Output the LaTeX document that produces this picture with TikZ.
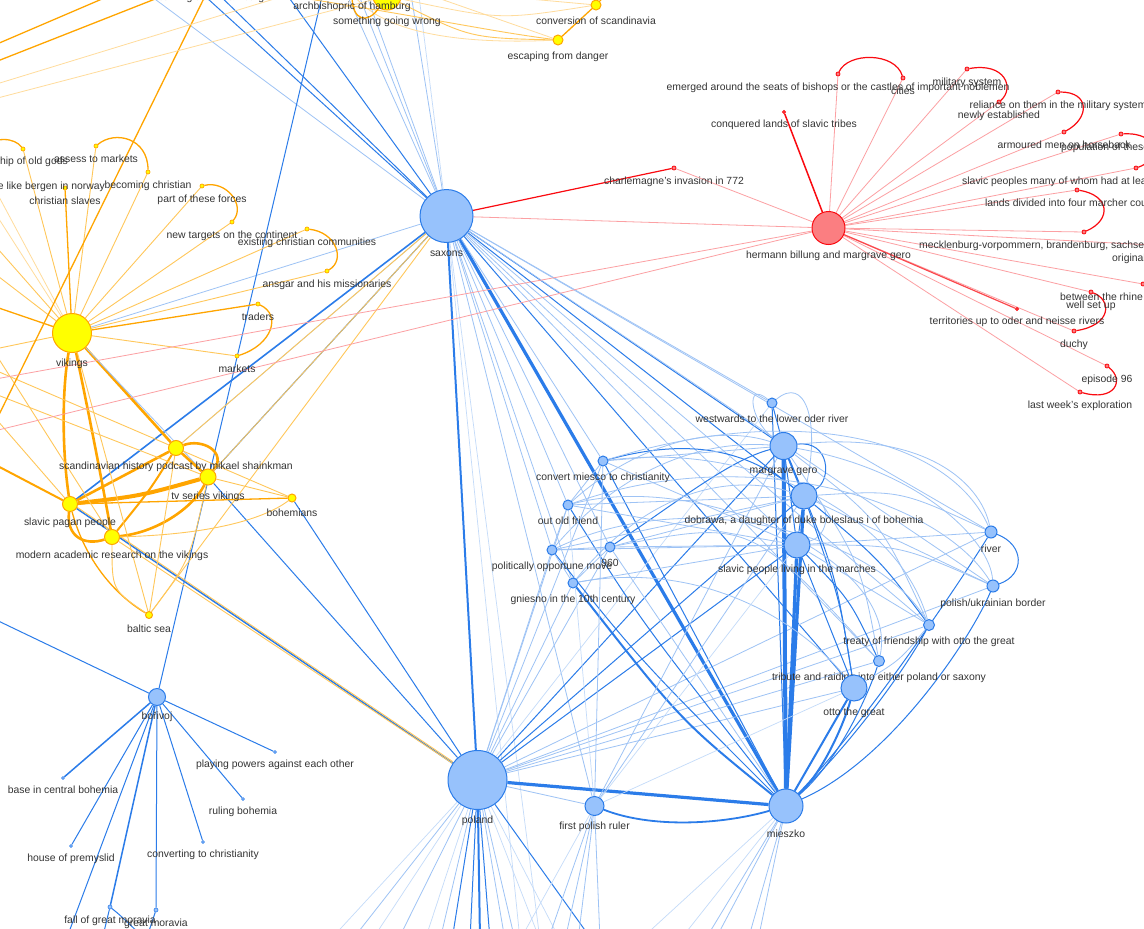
\documentclass[tikz,border=0pt]{standalone}
\usepackage{fontspec}
\setmainfont{Liberation Sans}
\pgfdeclarelayer{bg}
\pgfdeclarelayer{edges}
\pgfsetlayers{bg,edges,main}
\definecolor{bB}{HTML}{2B7CE9}
\definecolor{bF}{HTML}{97C2FC}
\definecolor{bL}{HTML}{9EC3F5}
\definecolor{bVL}{HTML}{C4DBF9}
\definecolor{yB}{HTML}{FFA500}
\definecolor{yF}{HTML}{FFFF00}
\definecolor{oL}{HTML}{FFC75A}
\definecolor{oVL}{HTML}{FFDC9C}
\definecolor{rB}{HTML}{FA0A10}
\definecolor{rF}{HTML}{FB7E81}
\definecolor{rL}{HTML}{FCA0A3}
\definecolor{txt}{HTML}{343434}
\tikzset{
 bn/.style={circle,draw=bB,fill=bF,line width=1pt,inner sep=0pt},
 bdot/.style={circle,draw=bB,fill=bF,line width=0.6pt,inner sep=0pt},
 yn/.style={circle,draw=yB,fill=yF,line width=1pt,inner sep=0pt},
 ydot/.style={circle,draw=yB,fill=yF,line width=0.7pt,inner sep=0pt},
 rn/.style={circle,draw=rB,fill=rF,line width=1pt,inner sep=0pt},
 rdot/.style={circle,draw=rB,fill=rF,line width=0.8pt,inner sep=0pt},
 lbl/.style={font=\fontsize{10.4}{12}\selectfont,text=txt,inner sep=0pt,text height=7.5pt,text depth=2.2pt},
 be0/.style={draw=bVL,line width=0.7pt},
 be1/.style={draw=bL,line width=0.8pt},
 be2/.style={draw=bB,line width=1pt},
 be3/.style={draw=bB,line width=2pt},
 be4/.style={draw=bB,line width=3.2pt},
 oe0/.style={draw=oVL,line width=0.8pt},
 oe1/.style={draw=oL,line width=0.9pt},
 oe2/.style={draw=yB,line width=1.3pt},
 oe3/.style={draw=yB,line width=2.6pt},
 oe4/.style={draw=yB,line width=4pt},
 re1/.style={draw=rL,line width=0.8pt},
 re2/.style={draw=rB,line width=1.2pt},
}
\newcommand\gnode[6]{%
 \node[#1,minimum size=#5pt] (#2) at (#3,#4) {};%
 \pgfmathsetmacro\labely{#4+#5/2+11.5}%
 \node[lbl] (#2-l) at (#3,\labely) {#6};}
\begin{document}
\begin{tikzpicture}[x=1pt,y=-1pt]
\begin{pgfonlayer}{bg}
\fill[white] (0,0) rectangle (1144,929);
\end{pgfonlayer}
\useasboundingbox (0,0) rectangle (1144,929);

% ---------- blue nodes ----------
\gnode{bn}{saxons}{446.5}{216}{53}{saxons}
\gnode{bn}{poland}{477.5}{780}{59}{poland}
\gnode{bn}{mieszko}{786}{806}{34}{mieszko}
\gnode{bn}{fpr}{594.5}{806}{19}{first polish ruler}
\gnode{bn}{ww}{772}{403}{10}{westwards to the lower oder river}
\gnode{bn}{mg}{783.5}{446}{27}{margrave gero}
\gnode{bn}{dob}{804}{496}{26}{dobrawa, a daughter of duke boleslaus i of bohemia}
\gnode{bn}{slp}{797}{545}{26}{slavic people living in the marches}
\gnode{bn}{conv}{603}{461}{10}{convert miesco to christianity}
\gnode{bn}{oof}{568}{505}{10}{out old friend}
\gnode{bn}{pom}{552}{550}{10}{politically opportune move}
\gnode{bn}{n960}{610}{547}{10}{960}
\gnode{bn}{gn}{573}{583}{10}{gniesno in the 10th century}
\gnode{bn}{river}{991}{532}{12}{river}
\gnode{bn}{pub}{993}{586}{12}{polish/ukrainian border}
\gnode{bn}{treaty}{929}{625}{11}{treaty of friendship with otto the great}
\gnode{bn}{trib}{879}{661}{11}{tribute and raiding into either poland or saxony}
\gnode{bn}{otto}{854}{688}{26}{otto the great}
\gnode{bn}{bor}{157}{697}{17}{bořivoj}
\gnode{bdot}{ppae}{275}{752}{3}{playing powers against each other}
\gnode{bdot}{bcb}{63}{778}{3}{base in central bohemia}
\gnode{bdot}{rb}{243}{799}{3}{ruling bohemia}
\gnode{bdot}{hop}{71}{846}{3}{house of premyslid}
\gnode{bdot}{ctc}{203}{842}{3}{converting to christianity}
\gnode{bdot}{fgm}{110}{907}{4}{fall of great moravia}
\gnode{bdot}{gm}{156}{910}{4}{great moravia}

% ---------- yellow nodes ----------
\gnode{yn}{vikings}{72}{333}{39}{vikings}
\gnode{yn}{pod}{176}{448}{15}{scandinavian history podcast by mikael shainkman}
\gnode{yn}{tv}{208}{477}{16}{tv series vikings}
\gnode{yn}{sp}{70}{504}{15}{slavic pagan people}
\gnode{yn}{mar}{112}{537}{15}{modern academic research on the vikings}
\gnode{yn}{boh}{292}{498}{8}{bohemians}
\gnode{yn}{baltic}{149}{615}{7}{baltic sea}
\gnode{ydot}{traders}{258}{304}{4}{traders}
\gnode{ydot}{markets}{237}{356}{4}{markets}
\gnode{ydot}{ansgar}{327}{271}{4}{ansgar and his missionaries}
\gnode{ydot}{ecc}{307}{229}{4}{existing christian communities}
\gnode{ydot}{ntc}{232}{222}{4}{new targets on the continent}
\gnode{ydot}{ptf}{202}{186}{4}{part of these forces}
\gnode{ydot}{bec}{148}{172}{4}{becoming christian}
\gnode{ydot}{atm}{96}{146}{4}{assess to markets}
\gnode{ydot}{cs}{65}{188}{4}{christian slaves}
\gnode{ydot}{sog}{23}{149}{4}{}
\node[lbl,anchor=east] (sog-t) at (68,162) {ship of old gods};
\node[lbl,anchor=east] (bergen) at (105,187) {e like bergen in norway};
\gnode{ydot}{burning}{211}{-16}{4}{burning down hamburg}
\gnode{yn}{sgw}{387}{-4}{28}{something going wrong}
\gnode{ydot}{archb}{352}{-7}{4}{archbishopric of hamburg}
\gnode{yn}{cos}{596}{5}{10}{conversion of scandinavia}
\gnode{yn}{esc}{558}{40}{10}{escaping from danger}

% ---------- red nodes ----------
\gnode{rn}{hermann}{828.5}{228}{33}{hermann billung and margrave gero}
\gnode{rdot}{charl}{674}{168}{4}{charlemagne's invasion in 772}
\gnode{rdot}{conq}{784}{112}{3}{conquered lands of slavic tribes}
\gnode{rdot}{emerged}{838}{74}{4}{emerged around the seats of bishops or the castles of important noblemen}
\gnode{rdot}{cities}{903}{78}{4}{cities}
\gnode{rdot}{milsys}{967}{69}{4}{military system}
\gnode{rdot}{newly}{999}{102}{4}{newly established}
\gnode{rdot}{reliance}{1058}{92}{4}{reliance on them in the military system}
\gnode{rdot}{armoured}{1064}{132}{4}{armoured men on horseback}
\gnode{rdot}{popul}{1121}{134}{4}{}
\node[lbl,anchor=west] (popul-t) at (1061,147.5) {population of these};
\gnode{rdot}{slpeo}{1136}{168}{4}{}
\node[lbl,anchor=west] (slpeo-t) at (962,181.5) {slavic peoples many of whom had at least};
\gnode{rdot}{lands}{1077}{190}{4}{lands divided into four marcher counties}
\gnode{rdot}{meck}{1084}{232}{4}{}
\node[lbl,anchor=west] (meck-t) at (919,245.5) {mecklenburg-vorpommern, brandenburg, sachsen};
\gnode{rdot}{orig}{1152}{245}{4}{}
\node[lbl,anchor=west] (orig-t) at (1112,258.5) {original};
\gnode{rdot}{rhine}{1143}{284}{4}{}
\node[lbl,anchor=west] (rhine-t) at (1060,297.5) {between the rhine};
\gnode{rdot}{wellset}{1091}{292}{4}{well set up}
\gnode{rdot}{territ}{1017}{309}{3}{territories up to oder and neisse rivers}
\gnode{rdot}{duchy}{1074}{331}{4}{duchy}
\gnode{rdot}{ep96}{1107}{366}{4}{episode 96}
\gnode{rdot}{lastw}{1080}{392}{4}{last week's exploration}

% ---------- off-canvas ends ----------
\coordinate (t1) at (140,-12);
\coordinate (t2) at (196,-12);
\coordinate (t3) at (212,-12);
\coordinate (t4) at (282,-12);
\coordinate (t5) at (344,-12);
\coordinate (t6) at (356,-12);
\coordinate (t7) at (364,-12);
\coordinate (t8) at (410,-12);
\coordinate (t9) at (418,-12);
\coordinate (bortop) at (324,-12);
\coordinate (borl) at (-10,617);
\coordinate (borb1) at (66,940);
\coordinate (fgmb) at (102,940);
\coordinate (gmb) at (146,940);
\coordinate (rl1) at (-10,380);
\coordinate (rl2) at (-10,432);
\coordinate (sogl) at (-20,150);
\coordinate (lo1a) at (-10,47);
\coordinate (lo1b) at (123,-10);
\coordinate (lo2a) at (-10,64);
\coordinate (lo2b) at (178,-10);
\coordinate (lo3a) at (-10,86);
\coordinate (lo3b) at (310,-12);
\coordinate (lo4a) at (-10,100);
\coordinate (burnl) at (-10,433);
\coordinate (cost) at (612,-12);
\coordinate (esct1) at (415,-10);
\coordinate (cost1) at (430,-10);
\coordinate (vl1) at (-10,305);
\coordinate (vl2) at (-10,270);
\coordinate (vl3) at (-10,240);
\coordinate (vl4) at (-10,350);
\coordinate (vl5) at (-10,205);
\coordinate (vl6) at (-10,180);
\coordinate (pl1) at (-10,368);
\coordinate (tl1) at (-10,392);
\coordinate (sl1) at (-10,462);
\coordinate (sl2) at (-10,412);
\coordinate (ml1) at (-10,345);
\foreach \x/\n in {330/1,352/2,372/3,398/4,425/5,440/6,452/7,470/8,480/9,490/10,505/11,515/12,540/13,560/14,592/15}
  {\coordinate (pb\n) at (\x,940);}
\foreach \x/\n in {640/1,680/2,705/3,715/4,748/5,758/6}
  {\coordinate (mb\n) at (\x,940);}
\foreach \x/\n in {520/1,548/2,565/3,578/4,600/5}
  {\coordinate (fb\n) at (\x,940);}

\begin{pgfonlayer}{edges}
% ===== blue edges =====
% saxons
\foreach \t/\s in {t1/be1,t2/be2,t3/be2,t4/be2,t5/be1,t6/be1,t7/be1,t8/be1,t9/be0}
  {\draw[\s] (saxons) -- (\t);}
\draw[be3] (saxons) -- (poland);
\draw[be4] (saxons) -- (mieszko);
\draw[be2] (saxons) -- (mg);
\draw[be1] (saxons) -- (ww);
\draw[be2] (saxons) -- (dob);
\draw[be1] (saxons) -- (slp);
\draw[be2] (saxons) -- (otto);
\draw[be1] (saxons) -- (trib);
\draw[be1] (saxons) -- (treaty);
\draw[be1] (saxons) -- (river);
\draw[be1] (saxons) -- (pub);
\draw[be1] (saxons) -- (conv);
\draw[be1] (saxons) -- (oof);
\draw[be1] (saxons) -- (pom);
\draw[be1] (saxons) -- (gn);
\draw[be1] (saxons) -- (n960);
\draw[be1] (saxons) -- (fpr);
\draw[be0] (saxons) -- (pb13);
\draw[be0] (saxons) -- (fb1);
\draw[be1] (saxons) -- (vikings);
\draw[be3,line width=1.6pt] (saxons) -- (sp);
\draw[be1] (saxons) -- (pod);
\draw[be2] (saxons) -- (tv);
% poland
\draw[be4] (poland) -- (mieszko);
\draw[be1] (poland) -- (fpr);
\draw[be3,line width=1.8pt] (fpr) .. controls (650,828) and (720,825) .. (mieszko);
\draw[be2] (poland) -- (mg);
\draw[be2] (poland) -- (dob);
\draw[be2] (poland) -- (slp);
\draw[be1] (poland) -- (otto);
\draw[be1] (poland) -- (trib);
\draw[be1] (poland) -- (treaty);
\draw[be1] (poland) -- (river);
\draw[be1] (poland) -- (pub);
\draw[be1] (poland) -- (conv);
\draw[be1] (poland) -- (oof);
\draw[be1] (poland) -- (pom);
\draw[be1] (poland) -- (gn);
\draw[be1] (poland) -- (n960);
\draw[be0] (poland) -- (ww);
\draw[be3,line width=1.5pt] (poland) -- (sp);
\draw[be2] (poland) -- (tv);
\draw[be2] (poland) -- (boh);
\foreach \n/\s in {1/be0,2/be1,3/be0,4/be1,5/be0,6/be1,7/be2,8/be2,9/be3,10/be2,11/be1,12/be1,13/be0,14/be0,15/be2}
  {\draw[\s] (poland) -- (pb\n);}
\foreach \n/\s in {1/be0,2/be0,3/be1,4/be1,5/be1,6/be1}
  {\draw[\s] (mieszko) -- (mb\n);}
\foreach \n/\s in {1/be0,2/be1,3/be1,4/be1,5/be1}
  {\draw[\s] (fpr) -- (fb\n);}
% mieszko bundle
\draw[be4,line width=4pt] (mg) -- (mieszko);
\draw[be4] (dob) -- (mieszko);
\draw[be4] (slp) -- (mieszko);
\draw[be2] (ww) -- (mieszko);
\draw[be3] (otto) -- (mieszko);
\draw[be3] (mieszko) .. controls (825,770) and (845,720) .. (otto);
\draw[be2] (mieszko) .. controls (840,760) and (870,690) .. (trib);
\draw[be2] (mieszko) .. controls (850,745) and (905,670) .. (treaty);
\draw[be2] (mieszko) .. controls (860,730) and (955,590) .. (river);
\draw[be2] (mieszko) .. controls (890,760) and (970,640) .. (pub);
\draw[be3] (gn) .. controls (680,720) .. (mieszko);
\draw[be2] (pom) .. controls (640,660) .. (mieszko);
\draw[be2] (oof) .. controls (640,620) .. (mieszko);
\draw[be2] (conv) -- (mieszko);
\draw[be1] (n960) -- (mieszko);
% margrave gero area
\draw[be2] (ww) -- (mg);
\draw[be1] (ww) .. controls (805,375) and (820,420) .. (dob);
\draw[be1] (ww) .. controls (745,380) and (750,420) .. (mg);
\draw[be3] (mg) -- (dob);
\draw[be2] (mg) .. controls (830,440) and (832,480) .. (dob);
\draw[be1] (dob) .. controls (830,505) and (830,535) .. (slp);
\draw[be2] (mg) -- (slp);
\draw[be2] (dob) -- (slp);
\draw[be2] (conv) .. controls (680,440) and (740,445) .. (dob);
\draw[be2] (n960) .. controls (680,500) and (730,460) .. (mg);
\draw[be1] (conv) -- (mg);
\draw[be1] (oof) .. controls (640,440) and (720,425) .. (mg);
\draw[be1] (pom) .. controls (620,470) and (700,440) .. (mg);
\draw[be1] (gn) .. controls (640,500) and (720,470) .. (dob);
\draw[be1] (n960) -- (dob);
\draw[be1] (n960) -- (slp);
\draw[be1] (oof) -- (slp);
\draw[be1] (pom) -- (dob);
\draw[be1] (gn) -- (slp);
\draw[be1] (conv) -- (slp);
\draw[be1] (oof) -- (dob);
\draw[be1] (pom) -- (slp);
% right side
\draw[be1] (mg) .. controls (920,430) and (980,480) .. (river);
\draw[be1] (mg) .. controls (920,470) and (990,540) .. (pub);
\draw[be1] (dob) .. controls (900,490) .. (river);
\draw[be1] (slp) .. controls (900,545) .. (pub);
\draw[be1] (slp) -- (river);
\draw[be1] (dob) -- (pub);
\draw[be1] (mg) .. controls (880,520) .. (treaty);
\draw[be2] (river) .. controls (1025,545) and (1025,575) .. (pub);
\draw[be2] (dob) .. controls (880,560) .. (treaty);
\draw[be1] (mg) .. controls (860,560) .. (trib);
\draw[be2] (slp) .. controls (850,600) .. (trib);
\draw[be2] (dob) .. controls (840,600) .. (otto);
\draw[be2] (slp) -- (otto);
\draw[be2] (mg) .. controls (835,570) .. (otto);
\draw[be1] (slp) -- (treaty);
\draw[be1] (treaty) .. controls (900,660) .. (otto);
% domes from left nodes
\draw[be1] (conv) .. controls (800,400) and (950,440) .. (river);
\draw[be1] (oof) .. controls (750,440) and (940,500) .. (pub);
\draw[be1] (pom) .. controls (700,480) and (880,540) .. (treaty);
\draw[be1] (n960) .. controls (750,520) .. (trib);
\draw[be1] (gn) .. controls (700,560) and (800,620) .. (otto);
\draw[be1] (conv) .. controls (760,440) and (900,520) .. (treaty);
\draw[be1] (oof) .. controls (700,470) and (900,560) .. (trib);
\draw[be1] (pom) -- (oof);
\draw[be1] (oof) -- (conv);
\draw[be1] (gn) -- (pom);
\draw[be1] (n960) -- (pom);
\draw[be1] (gn) -- (n960);
% first polish ruler
\draw[be1] (fpr) -- (conv);
\draw[be0] (fpr) -- (oof);
\draw[be1] (fpr) -- (mg);
\draw[be1] (fpr) -- (dob);
\draw[be0] (fpr) -- (slp);
\draw[be0] (fpr) -- (otto);
% bořivoj
\draw[be2] (bor) -- (bortop);
\draw[be2] (bor) -- (borl);
\draw[be2] (bor) -- (ppae);
\draw[be2] (bor) -- (rb);
\draw[be3,line width=1.5pt] (bor) -- (bcb);
\draw[be2] (bor) -- (hop);
\draw[be2] (bor) -- (ctc);
\draw[be3,line width=1.5pt] (bor) -- (fgm);
\draw[be2] (bor) -- (gm);
\draw[be2] (bor) -- (borb1);
\draw[be2] (fgm) -- (fgmb);
\draw[be2] (gm) -- (gmb);
\draw[be2] (fgm) .. controls (120,915) .. (gmb);

% ===== orange edges =====
\draw[oe1,transform canvas={yshift=1.6pt}] (sp) -- (poland);
\draw[oe1] (mar) -- (poland);
\draw[oe3] (vikings) .. controls (62,390) and (62,450) .. (sp);
\draw[oe3] (vikings) .. controls (86,400) and (100,470) .. (mar);
\draw[oe3] (vikings) -- (pod);
\draw[be1] (vikings) -- (tv);
\draw[oe3] (pod) -- (sp);
\draw[oe2,line width=2pt] (pod) .. controls (150,490) .. (mar);
\draw[oe3] (pod) -- (tv);
\draw[oe3] (pod) .. controls (202,438) and (228,452) .. (tv);
\draw[oe4] (sp) .. controls (140,496) .. (tv);
\draw[oe3] (mar) .. controls (160,532) and (195,505) .. (tv);
\draw[oe3] (sp) .. controls (66,537) and (85,546) .. (mar);
\draw[oe2] (sp) -- (boh);
\draw[oe1] (mar) .. controls (200,535) and (260,522) .. (boh);
\draw[oe1] (tv) -- (boh);
\draw[oe1] (pod) -- (boh);
\draw[oe2] (sp) .. controls (85,560) and (115,595) .. (baltic);
\draw[oe1] (mar) .. controls (112,590) .. (baltic);
\draw[oe1] (pod) -- (baltic);
\draw[oe1] (tv) .. controls (190,560) .. (baltic);
\draw[oe1] (vikings) -- (baltic);
\draw[oe1] (tv) -- (saxons);
\draw[oe1] (baltic) -- (saxons);
\draw[oe1] (pod) -- (saxons);
% vikings star
\draw[oe2] (vikings) -- (traders);
\draw[oe1] (vikings) -- (markets);
\draw[oe1] (vikings) -- (ansgar);
\draw[oe1] (vikings) -- (ecc);
\draw[oe1] (vikings) -- (ntc);
\draw[oe1] (vikings) -- (ptf);
\draw[oe1] (vikings) -- (bec);
\draw[oe1] (vikings) -- (atm);
\draw[oe2] (vikings) -- (cs);
\draw[oe1] (vikings) -- (sog);
\draw[oe2] (vikings) -- (vl1);
\draw[oe1] (vikings) -- (vl2);
\draw[oe1] (vikings) -- (vl3);
\draw[oe1] (vikings) -- (vl4);
\draw[oe0] (vikings) -- (vl5);
\draw[oe0] (vikings) -- (vl6);
\draw[oe1] (pod) -- (pl1);
\draw[oe1] (tv) -- (tl1);
\draw[oe3,line width=2pt] (sp) -- (sl1);
\draw[oe1] (sp) -- (sl2);
\draw[oe1] (mar) -- (ml1);
\draw[oe2] (burnl) -- (burning);
% small arcs
\draw[oe2] (sogl) .. controls (-5,135) and (15,138) .. (sog);
\draw[oe2] (atm) .. controls (115,130) and (148,138) .. (bec);
\draw[oe2] (ptf) .. controls (226,180) and (246,205) .. (ntc);
\draw[oe2] (ecc) .. controls (336,232) and (346,260) .. (ansgar);
\draw[oe2] (traders) .. controls (282,315) and (272,345) .. (markets);
% top cluster
\draw[oe2] (lo1a) -- (lo1b);
\draw[oe2] (lo2a) -- (lo2b);
\draw[oe0] (lo3a) -- (lo3b);
\draw[oe0] (lo4a) -- (sgw);
\draw[oe2] (esc) -- (cos);
\draw[oe2] (cos) -- (cost);
\draw[oe1] (esc) .. controls (470,38) .. (sgw);
\draw[oe0] (esc) .. controls (450,45) and (380,30) .. (archb);
\draw[oe0] (esc) -- (esct1);
\draw[oe0] (cos) .. controls (500,20) .. (sgw);
\draw[oe0] (cos) -- (cost1);
\draw[oe1] (esc) .. controls (480,30) and (420,15) .. (burning);
\draw[oe2] (archb) .. controls (352,22) and (368,24) .. (sgw);

% ===== red edges =====
\draw[re2] (saxons) -- (charl);
\draw[re1] (charl) -- (hermann);
\draw[re1] (saxons) -- (hermann);
\draw[re2,line width=1.5pt] (hermann) -- (conq);
\foreach \t in {emerged,cities,milsys,newly,reliance,armoured,popul,slpeo,lands,meck,orig,rhine,wellset,duchy,ep96,lastw}
  {\draw[re1] (hermann) -- (\t);}
\draw[re2,draw=rB!75] (hermann) -- (territ);
\draw[re1] (hermann) -- (rl1);
\draw[re1] (hermann) -- (rl2);
\draw[re2] (emerged) .. controls (848,52) and (895,52) .. (cities);
\draw[re2] (milsys) .. controls (1005,62) and (1015,88) .. (newly);
\draw[re2] (reliance) .. controls (1090,92) and (1090,118) .. (armoured);
\draw[re2] (popul) .. controls (1160,132) and (1160,160) .. (slpeo);
\draw[re2] (lands) .. controls (1110,195) and (1112,220) .. (meck);
\draw[re2] (wellset) .. controls (1112,300) and (1112,325) .. (duchy);
\draw[re2] (ep96) .. controls (1125,380) and (1115,402) .. (lastw);
\end{pgfonlayer}
\end{tikzpicture}
\end{document}
